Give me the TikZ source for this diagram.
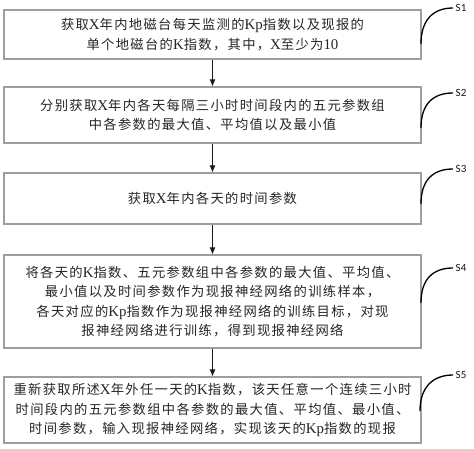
\documentclass[tikz,border=0pt]{standalone}
\usepackage{fontspec}
\setmainfont{Noto Sans CJK SC}[LetterSpace=10]
\newfontfamily\latfont{Liberation Serif}[Scale=1.12]
\newfontfamily\labfont{Carlito}
\newcommand\lat[1]{{\latfont #1}}
\usetikzlibrary{arrows.meta}
\tikzset{
  stepbox/.style={draw=black!38, line width=1.1pt, rectangle, minimum width=417pt,
    inner sep=0pt, align=center, text=black!85,
    font=\fontsize{13.3}{19.5}\selectfont},
  arr/.style={draw=black!90, line width=0.9pt, -{Latex[length=7pt,width=6pt]}},
  slabel/.style={inner sep=0.5pt, anchor=west, font=\labfont\fontsize{11}{12}\selectfont, text=black!90},
  scurve/.style={draw=black, line width=1.3pt}
}
\begin{document}
\begin{tikzpicture}[x=1pt,y=-1pt]
\useasboundingbox (0,0) rectangle (474,448);
\fill[white] (0,0) rectangle (474,448);

\node[stepbox, minimum height=49pt] (b1) at (212.5,34.5)
  {获取\lat{X}年内地磁台每天监测的\lat{Kp}指数以及现报的\\单个地磁台的\lat{K}指数，其中，\lat{X}至少为\lat{10}};
\node[stepbox, minimum height=56pt] (b2) at (212.5,115)
  {分别获取\lat{X}年内各天每隔三小时时间段内的五元参数组\\中各参数的最大值、平均值以及最小值};
\node[stepbox, minimum height=51pt] (b3) at (212.5,198.5)
  {获取\lat{X}年内各天的时间参数};
\node[stepbox, minimum height=93pt] (b4) at (212.5,301.5)
  {将各天的\lat{K}指数、五元参数组中各参数的最大值、平均值、\\最小值以及时间参数作为现报神经网络的训练样本，\\各天对应的\lat{Kp}指数作为现报神经网络的训练目标，对现\\报神经网络进行训练，得到现报神经网络};
\node[stepbox, minimum height=66pt] (b5) at (212.5,410)
  {重新获取所述\lat{X}年外任一天的\lat{K}指数，该天任意一个连续三小时\\时间段内的五元参数组中各参数的最大值、平均值、最小值、\\时间参数，输入现报神经网络，实现该天的\lat{Kp}指数的现报};

\draw[arr] (b1.south) -- (b2.north);
\draw[arr] (b2.south) -- (b3.north);
\draw[arr] (b3.south) -- (b4.north);
\draw[arr] (b4.south) -- (b5.north);

\node[slabel] (s1) at (455,8) {S1};
\node[slabel] (s2) at (455,93) {S2};
\node[slabel] (s3) at (455,169) {S3};
\node[slabel] (s4) at (455,268) {S4};
\node[slabel] (s5) at (455,375) {S5};

\coordinate (c1) at (421,44);
\coordinate (c2) at (421,128);
\coordinate (c3) at (421,204);
\coordinate (c4) at (421,303);
\coordinate (c5) at (420,411);

\foreach \i in {1,...,5}{
  \draw[scurve] (c\i) .. controls +(0,-24) and +(-20,0) .. ([xshift=-2pt]s\i.west);
}
\end{tikzpicture}
\end{document}
